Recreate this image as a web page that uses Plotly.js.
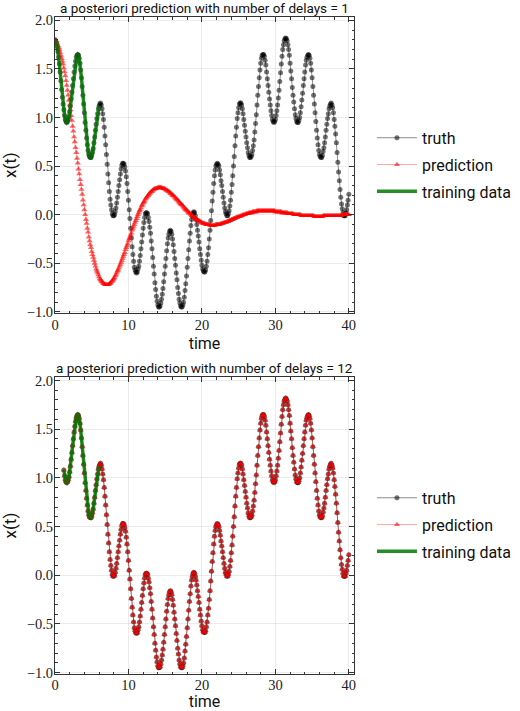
<!DOCTYPE html>
<html>
<head>
<meta charset="utf-8">
<script src="https://cdn.plot.ly/plotly-3.0.1.min.js"></script>
<style>
  html, body { margin: 0; padding: 0; background: #ffffff; }
  #chart { width: 520px; height: 711px; }
</style>
</head>
<body>
<div id="chart"></div>
<script>
// sample spacing of the time series and the delay counts of the two panels
const DT = 0.1;
const DELAYS = [1, 12];
const TRAIN_END = 60; // last training sample index (t = 6.0)

// truth x(t), t = 0 .. 40 step 0.1
const truth = [
  1.80, 1.79, 1.77, 1.73, 1.68, 1.62, 1.55, 1.47, 1.38, 1.29,
  1.21, 1.14, 1.08, 1.02, 0.98, 0.96, 0.95, 0.96, 0.98, 1.01,
  1.06, 1.12, 1.19, 1.26, 1.33, 1.40, 1.47, 1.53, 1.58, 1.62,
  1.64, 1.65,
  1.64, 1.61, 1.56, 1.49, 1.41, 1.32, 1.23, 1.14, 1.05, 0.95,
  0.87, 0.79, 0.72, 0.66, 0.62, 0.60, 0.59, 0.59, 0.61, 0.64,
  0.68, 0.74, 0.80, 0.87, 0.93, 0.99, 1.04, 1.09, 1.12, 1.14,
  1.15,
  1.13, 1.09, 1.04, 0.98, 0.90, 0.81, 0.72, 0.62, 0.52, 0.42,
  0.33, 0.24, 0.16, 0.10, 0.05, 0.01, -0.01, -0.01, 0.00, 0.03,
  0.07, 0.12, 0.18, 0.24, 0.30, 0.36, 0.42, 0.47, 0.51, 0.53,
  0.53, 0.52,
  0.49, 0.45, 0.39, 0.32, 0.24, 0.15, 0.05, -0.04, -0.14, -0.24,
  -0.33, -0.41, -0.48, -0.54, -0.57, -0.59, -0.60, -0.59, -0.56, -0.53,
  -0.48, -0.42, -0.35, -0.28, -0.21, -0.14, -0.08, -0.03, 0.01, 0.02,
  0.02,
  0.01, -0.03, -0.07, -0.13, -0.19, -0.27, -0.35, -0.44, -0.53, -0.61,
  -0.70, -0.77, -0.84, -0.89, -0.93, -0.95, -0.95, -0.94, -0.91, -0.87,
  -0.82, -0.76, -0.69, -0.61, -0.53, -0.45, -0.37, -0.30, -0.24, -0.20,
  -0.17, -0.16,
  -0.17, -0.20, -0.25, -0.31, -0.38, -0.45, -0.52, -0.60, -0.67, -0.75,
  -0.81, -0.87, -0.91, -0.94, -0.95, -0.95, -0.93, -0.90, -0.85, -0.78,
  -0.71, -0.63, -0.54, -0.45, -0.36, -0.27, -0.19, -0.11, -0.05, -0.01,
  0.02,
  0.03, 0.02, -0.01, -0.05, -0.10, -0.16, -0.22, -0.28, -0.35, -0.41,
  -0.47, -0.52, -0.56, -0.58, -0.59, -0.59, -0.57, -0.53, -0.48, -0.41,
  -0.34, -0.25, -0.16, -0.06, 0.04, 0.14, 0.23, 0.32, 0.40, 0.46,
  0.50,
  0.52, 0.53, 0.52, 0.50, 0.46, 0.41, 0.35, 0.30, 0.24, 0.18,
  0.12, 0.07, 0.03, 0.01, -0.01, -0.01, 0.01, 0.04, 0.09, 0.15,
  0.23, 0.31, 0.40, 0.50, 0.60, 0.71, 0.81, 0.90, 0.99, 1.05,
  1.10, 1.14,
  1.15, 1.15, 1.13, 1.09, 1.04, 0.98, 0.92, 0.86, 0.80, 0.74,
  0.69, 0.64, 0.61, 0.59, 0.59, 0.60, 0.62, 0.66, 0.71, 0.77,
  0.85, 0.94, 1.03, 1.13, 1.23, 1.32, 1.41, 1.49, 1.56, 1.61,
  1.64,
  1.65, 1.65, 1.63, 1.59, 1.54, 1.47, 1.40, 1.33, 1.26, 1.19,
  1.13, 1.07, 1.02, 0.98, 0.96, 0.95, 0.96, 0.98, 1.02, 1.07,
  1.13, 1.20, 1.28, 1.37, 1.46, 1.55, 1.63, 1.70, 1.75, 1.79,
  1.81, 1.82,
  1.81, 1.79, 1.75, 1.70, 1.64, 1.56, 1.48, 1.40, 1.31, 1.23,
  1.16, 1.09, 1.03, 0.99, 0.96, 0.95, 0.95, 0.97, 1.00, 1.05,
  1.11, 1.18, 1.25, 1.33, 1.40, 1.47, 1.54, 1.59, 1.62, 1.64,
  1.65,
  1.64, 1.61, 1.56, 1.49, 1.41, 1.32, 1.23, 1.14, 1.05, 0.96,
  0.87, 0.79, 0.72, 0.66, 0.62, 0.60, 0.59, 0.59, 0.61, 0.65,
  0.69, 0.74, 0.80, 0.87, 0.93, 0.99, 1.04, 1.09, 1.12, 1.14,
  1.15,
  1.13, 1.10, 1.05, 0.98, 0.91, 0.83, 0.74, 0.64, 0.54, 0.44,
  0.35, 0.26, 0.18, 0.11, 0.06, 0.02, -0.01, -0.01, -0.01, 0.02,
  0.05, 0.10, 0.15, 0.21
];

// a posteriori prediction with 1 delay, same time grid
const predDelay1 = [
  1.80, 1.79, 1.78, 1.76, 1.74, 1.72, 1.70, 1.67, 1.64, 1.61,
  1.58, 1.55, 1.51, 1.47, 1.43, 1.38, 1.33, 1.28, 1.23, 1.18,
  1.13, 1.08, 1.02, 0.97, 0.91, 0.86, 0.80, 0.75, 0.69, 0.64,
  0.58, 0.53, 0.47, 0.42, 0.36, 0.31, 0.26, 0.21, 0.15, 0.10,
  0.05, 0.00, -0.05, -0.09, -0.14, -0.18, -0.23, -0.27, -0.31, -0.34,
  -0.38, -0.41, -0.44, -0.47, -0.50, -0.53, -0.56, -0.58, -0.60, -0.62,
  -0.64, -0.66, -0.67, -0.68, -0.69, -0.70, -0.71, -0.71, -0.72, -0.72,
  -0.72, -0.72, -0.72, -0.72, -0.71, -0.71, -0.70, -0.69, -0.68, -0.67,
  -0.66, -0.65, -0.63, -0.62, -0.60, -0.58, -0.57, -0.55, -0.53, -0.51,
  -0.49, -0.47, -0.45, -0.43, -0.41, -0.39, -0.36, -0.34, -0.32, -0.30,
  -0.27, -0.25, -0.23, -0.21, -0.19, -0.16, -0.14, -0.12, -0.10, -0.08,
  -0.06, -0.04, -0.02, 0.00, 0.02, 0.04, 0.05, 0.07, 0.09, 0.10,
  0.12, 0.13, 0.14, 0.16, 0.17, 0.18, 0.19, 0.20, 0.21, 0.22,
  0.23, 0.24, 0.24, 0.25, 0.26, 0.26, 0.27, 0.27, 0.27, 0.27,
  0.28, 0.28, 0.28, 0.28, 0.28, 0.28, 0.27, 0.27, 0.27, 0.27,
  0.26, 0.26, 0.25, 0.25, 0.24, 0.24, 0.23, 0.22, 0.22, 0.21,
  0.20, 0.20, 0.19, 0.18, 0.17, 0.16, 0.16, 0.15, 0.14, 0.13,
  0.12, 0.11, 0.11, 0.10, 0.09, 0.08, 0.07, 0.06, 0.05, 0.05,
  0.04, 0.03, 0.02, 0.02, 0.01, 0.00, -0.01, -0.01, -0.02, -0.03,
  -0.03, -0.04, -0.04, -0.05, -0.06, -0.06, -0.06, -0.07, -0.07, -0.08,
  -0.08, -0.09, -0.09, -0.09, -0.09, -0.10, -0.10, -0.10, -0.10, -0.10,
  -0.10, -0.11, -0.11, -0.11, -0.11, -0.11, -0.11, -0.11, -0.11, -0.10,
  -0.10, -0.10, -0.10, -0.10, -0.10, -0.10, -0.09, -0.09, -0.09, -0.09,
  -0.08, -0.08, -0.08, -0.08, -0.07, -0.07, -0.07, -0.06, -0.06, -0.06,
  -0.05, -0.05, -0.05, -0.04, -0.04, -0.04, -0.03, -0.03, -0.03, -0.02,
  -0.02, -0.02, -0.02, -0.01, -0.01, -0.01, 0.00, 0.00, 0.00, 0.00,
  0.01, 0.01, 0.01, 0.01, 0.02, 0.02, 0.02, 0.02, 0.02, 0.03,
  0.03, 0.03, 0.03, 0.03, 0.03, 0.04, 0.04, 0.04, 0.04, 0.04,
  0.04, 0.04, 0.04, 0.04, 0.04, 0.04, 0.04, 0.04, 0.04, 0.04,
  0.04, 0.04, 0.04, 0.04, 0.04, 0.04, 0.04, 0.04, 0.04, 0.04,
  0.03, 0.03, 0.03, 0.03, 0.03, 0.03, 0.03, 0.03, 0.03, 0.02,
  0.02, 0.02, 0.02, 0.02, 0.02, 0.02, 0.02, 0.01, 0.01, 0.01,
  0.01, 0.01, 0.01, 0.01, 0.01, 0.00, 0.00, 0.00, 0.00, 0.00,
  0.00, 0.00, 0.00, 0.00, 0.00, -0.01, -0.01, -0.01, -0.01, -0.01,
  -0.01, -0.01, -0.01, -0.01, -0.01, -0.01, -0.01, -0.01, -0.01, -0.01,
  -0.01, -0.01, -0.01, -0.02, -0.02, -0.02, -0.02, -0.02, -0.02, -0.02,
  -0.02, -0.02, -0.02, -0.02, -0.02, -0.01, -0.01, -0.01, -0.01, -0.01,
  -0.01, -0.01, -0.01, -0.01, -0.01, -0.01, -0.01, -0.01, -0.01, -0.01,
  -0.01, -0.01, -0.01, -0.01, -0.01, -0.01, -0.01, -0.01, -0.01, -0.01,
  -0.01, 0.00, 0.00, 0.00, 0.00, 0.00, 0.00, 0.00, 0.00, 0.00,
  0.00
];

const SANS = 'Roboto, "DejaVu Sans", sans-serif';
const SERIF = '"Liberation Serif", "DejaVu Serif", serif';

function panelTraces(panel) {
  const sfx = panel === 0 ? '' : '2';
  const legend = panel === 0 ? 'legend' : 'legend2';
  // with 12 delays the first 1.2 time units are consumed by the delay embedding
  const start = panel === 0 ? 0 : DELAYS[1];
  // with 12 delays the prediction lies on top of the truth
  const pred = panel === 0 ? predDelay1 : truth.slice(start);
  const common = { xaxis: 'x' + sfx, yaxis: 'y' + sfx, x0: start * DT, dx: DT,
                   legend: legend, hoverinfo: 'skip' };

  return [
    Object.assign({}, common, {
      name: 'truth', legendgroup: 'a' + panel,
      y: truth.slice(start), type: 'scatter', mode: 'lines+markers',
      line: { color: 'rgba(0,0,0,0.45)', width: 1 },
      marker: { symbol: 'circle', size: 5, color: 'rgba(0,0,0,0.55)' }
    }),
    Object.assign({}, common, {
      name: 'prediction', legendgroup: 'b' + panel,
      y: pred, type: 'scatter', mode: 'lines+markers',
      line: { color: 'rgba(255,0,0,0.35)', width: 1 },
      marker: { symbol: 'triangle-up', size: 5.5, color: 'rgba(255,0,0,0.6)' }
    }),
    Object.assign({}, common, {
      name: 'training data', legendgroup: 'c' + panel,
      y: truth.slice(start, TRAIN_END + 1), type: 'scatter', mode: 'lines',
      line: { color: 'rgba(0,120,0,0.85)', width: 3.5 }
    })
  ];
}

function xAxis(anchor) {
  return {
    anchor: anchor,
    domain: [0, 1],
    range: [0, 40.7],
    tick0: 0, dtick: 10,
    ticks: 'inside', ticklen: 5, tickwidth: 1, tickcolor: '#333',
    minor: { ticks: 'inside', ticklen: 2.5, dtick: 2, tickcolor: '#333', showgrid: false },
    mirror: 'allticks', showline: true, linecolor: '#333', linewidth: 1,
    showgrid: true, gridcolor: 'rgba(0,0,0,0.08)', gridwidth: 1,
    zeroline: false,
    ticklabelstandoff: -2,
    tickfont: { family: SERIF, size: 14.5, color: '#222' },
    title: { text: 'time', font: { family: SANS, size: 16, color: '#111' }, standoff: 6 }
  };
}

function yAxis(anchor, domain) {
  return {
    anchor: anchor,
    domain: domain,
    range: [-1.015, 2.035],
    tick0: 0, dtick: 0.5, tickformat: '.1f',
    ticks: 'inside', ticklen: 5, tickwidth: 1, tickcolor: '#333',
    minor: { ticks: 'inside', ticklen: 2.5, dtick: 0.1, tickcolor: '#333', showgrid: false },
    mirror: 'allticks', showline: true, linecolor: '#333', linewidth: 1,
    showgrid: true, gridcolor: 'rgba(0,0,0,0.08)', gridwidth: 1,
    zeroline: false,
    ticklabelstandoff: -2,
    tickfont: { family: SERIF, size: 14.5, color: '#222' },
    title: { text: 'x(t)', font: { family: SANS, size: 17, color: '#111' }, standoff: 5 }
  };
}

function legendBox(yCenter) {
  return {
    x: 1.06, xanchor: 'left', y: yCenter, yanchor: 'middle',
    bgcolor: 'rgba(0,0,0,0)', borderwidth: 0,
    font: { family: SANS, size: 16, color: '#111' },
    tracegroupgap: 3, itemwidth: 40
  };
}

function titleNote(text, yPaper) {
  return {
    text: text, xref: 'paper', yref: 'paper', x: 0.5, y: yPaper,
    xanchor: 'center', yanchor: 'bottom', showarrow: false, yshift: -1,
    font: { family: SANS, size: 13.5, color: '#111' }
  };
}

const TOP_DOMAIN = [0.549, 1];
const BOTTOM_DOMAIN = [0, 0.452];

const layout = {
  width: 520,
  height: 711,
  margin: { l: 55, r: 166, t: 17, b: 37, autoexpand: false },
  paper_bgcolor: '#ffffff',
  plot_bgcolor: '#ffffff',
  xaxis: xAxis('y'),
  yaxis: yAxis('x', TOP_DOMAIN),
  xaxis2: xAxis('y2'),
  yaxis2: yAxis('x2', BOTTOM_DOMAIN),
  legend: legendBox(0.775),
  legend2: legendBox(0.227),
  annotations: [
    titleNote('a posteriori prediction with number of delays = ' + DELAYS[0], TOP_DOMAIN[1]),
    titleNote('a posteriori prediction with number of delays = ' + DELAYS[1], BOTTOM_DOMAIN[1])
  ]
};

Plotly.newPlot('chart', panelTraces(0).concat(panelTraces(1)), layout,
  { displayModeBar: false, staticPlot: true });
</script>
</body>
</html>
